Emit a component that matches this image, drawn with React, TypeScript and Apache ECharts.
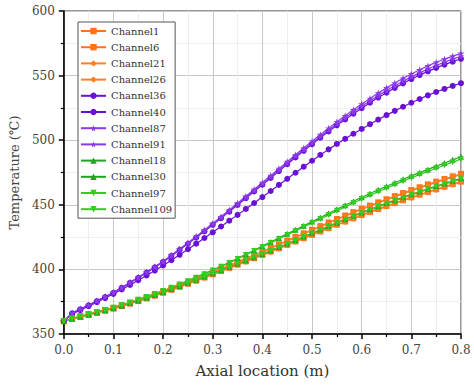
import React, { useEffect, useRef } from "react";
import * as echarts from "echarts";

// Axial stations (m)
const positions = [0, 0.0167, 0.0333, 0.05, 0.0667, 0.0833, 0.1, 0.1167, 0.1333, 0.15, 0.1667, 0.1833, 0.2, 0.2167, 0.2333, 0.25, 0.2667, 0.2833, 0.3, 0.3167, 0.3333, 0.35, 0.3667, 0.3833, 0.4, 0.4167, 0.4333, 0.45, 0.4667, 0.4833, 0.5, 0.5167, 0.5333, 0.55, 0.5667, 0.5833, 0.6, 0.6167, 0.6333, 0.65, 0.6667, 0.6833, 0.7, 0.7167, 0.7333, 0.75, 0.7667, 0.7833, 0.8];

// Temperatures (°C)
const channel1 = [360, 362.1, 363.6, 365.2, 366.8, 368.5, 370.2, 372.1, 374.1, 376.2, 378.3, 380.5, 382.8, 385.2, 387.6, 390.1, 392.6, 395.2, 397.8, 400.4, 403.1, 405.8, 408.5, 411.2, 413.9, 416.7, 419.5, 422.3, 425.1, 427.9, 430.7, 433.5, 436.3, 439.0, 441.7, 444.3, 446.9, 449.4, 451.9, 454.3, 456.7, 459.1, 461.4, 463.6, 465.8, 467.9, 470.0, 472.0, 474.0];
const channel6 = [360, 361.9, 363.4, 364.9, 366.5, 368.1, 369.8, 371.6, 373.5, 375.5, 377.6, 379.7, 381.9, 384.2, 386.5, 388.9, 391.3, 393.7, 396.2, 398.7, 401.2, 403.7, 406.2, 408.7, 411.2, 413.8, 416.4, 419.0, 421.6, 424.2, 426.8, 429.4, 432.0, 434.6, 437.1, 439.6, 442.1, 444.5, 446.8, 449.1, 451.4, 453.6, 455.8, 457.9, 460.0, 462.0, 464.0, 466.0, 468.0];
const channel21 = [360, 362.0, 363.6, 365.2, 366.8, 368.4, 370.1, 372.0, 374.0, 376.1, 378.2, 380.4, 382.7, 385.1, 387.5, 390.0, 392.5, 395.0, 397.6, 400.2, 402.8, 405.5, 408.2, 410.9, 413.6, 416.3, 419.1, 421.9, 424.7, 427.5, 430.3, 433.1, 435.8, 438.5, 441.2, 443.8, 446.4, 448.9, 451.4, 453.8, 456.2, 458.5, 460.8, 463.0, 465.2, 467.3, 469.4, 471.4, 473.3];
const channel26 = [360, 361.9, 363.3, 364.8, 366.4, 368.0, 369.7, 371.5, 373.4, 375.4, 377.4, 379.5, 381.7, 384.0, 386.3, 388.7, 391.1, 393.5, 396.0, 398.5, 401.0, 403.5, 406.0, 408.5, 411.0, 413.6, 416.2, 418.8, 421.4, 424.0, 426.6, 429.2, 431.7, 434.2, 436.7, 439.2, 441.6, 444.0, 446.3, 448.6, 450.9, 453.1, 455.3, 457.4, 459.5, 461.5, 463.5, 465.5, 467.4];
const channel36 = [360, 365.5, 368.5, 371.6, 374.7, 377.8, 381.0, 384.5, 388.0, 391.6, 395.3, 399.1, 403.0, 407.1, 411.3, 415.6, 419.9, 424.3, 428.7, 433.2, 437.7, 442.2, 446.8, 451.4, 456.0, 460.7, 465.4, 470.1, 474.8, 479.5, 484.1, 488.6, 492.9, 497.1, 501.1, 505.0, 508.7, 512.4, 516.0, 519.4, 522.7, 525.9, 529.0, 531.9, 534.7, 537.3, 539.7, 542.0, 544.1];
const channel40 = [360, 366.0, 369.1, 372.2, 375.4, 378.6, 381.9, 385.7, 389.6, 393.5, 397.5, 401.6, 405.8, 410.4, 415.1, 419.8, 424.6, 429.5, 434.5, 439.6, 444.7, 449.9, 455.1, 460.3, 465.5, 470.8, 476.1, 481.4, 486.6, 491.8, 496.9, 501.9, 506.8, 511.5, 516.1, 520.5, 524.8, 529.0, 533.0, 536.8, 540.5, 544.0, 547.3, 550.4, 553.3, 556.0, 558.5, 560.8, 563.0];
const channel87 = [360, 366.3, 369.4, 372.5, 375.7, 378.9, 382.2, 386.0, 389.9, 393.9, 397.9, 402.1, 406.4, 411.0, 415.8, 420.6, 425.5, 430.5, 435.6, 440.8, 446.0, 451.3, 456.6, 461.9, 467.2, 472.6, 478.0, 483.4, 488.7, 494.0, 499.2, 504.3, 509.3, 514.2, 518.9, 523.5, 528.0, 532.3, 536.5, 540.5, 544.3, 547.9, 551.3, 554.5, 557.5, 560.3, 562.8, 565.1, 567.2];
const channel91 = [360, 366.2, 369.3, 372.4, 375.6, 378.8, 382.1, 385.9, 389.8, 393.7, 397.7, 401.9, 406.1, 410.7, 415.5, 420.3, 425.1, 430.1, 435.1, 440.2, 445.4, 450.6, 455.9, 461.1, 466.4, 471.7, 477.0, 482.3, 487.6, 492.8, 497.9, 502.9, 507.9, 512.7, 517.3, 521.8, 526.2, 530.4, 534.5, 538.4, 542.1, 545.7, 549.0, 552.1, 555.1, 557.8, 560.4, 562.8, 565.0];
const channel18 = [360, 362.0, 363.6, 365.3, 367.0, 368.7, 370.5, 372.5, 374.6, 376.7, 378.9, 381.2, 383.5, 386.0, 388.6, 391.3, 394.0, 396.7, 399.5, 402.5, 405.5, 408.6, 411.7, 414.8, 418.0, 421.2, 424.4, 427.5, 430.7, 433.8, 437.0, 440.2, 443.4, 446.6, 449.7, 452.8, 455.9, 458.8, 461.6, 464.4, 467.1, 469.8, 472.4, 474.9, 477.4, 479.9, 482.4, 484.8, 487.2];
const channel30 = [360, 362.0, 363.5, 365.1, 366.7, 368.3, 370.0, 371.9, 373.9, 375.9, 378.0, 380.2, 382.5, 384.8, 387.2, 389.6, 392.0, 394.5, 397.0, 399.5, 402.0, 404.5, 407.0, 409.5, 412.0, 414.6, 417.3, 420.0, 422.7, 425.4, 428.1, 430.8, 433.5, 436.2, 438.9, 441.5, 444.1, 446.5, 448.9, 451.3, 453.6, 455.9, 458.1, 460.3, 462.4, 464.5, 466.5, 468.5, 470.5];
const channel97 = [360, 362.0, 363.5, 365.2, 366.9, 368.6, 370.4, 372.3, 374.4, 376.5, 378.7, 381.0, 383.3, 385.8, 388.3, 390.9, 393.6, 396.3, 399.1, 402.0, 405.0, 408.0, 411.1, 414.2, 417.3, 420.5, 423.6, 426.7, 429.8, 432.9, 436.0, 439.1, 442.2, 445.3, 448.4, 451.4, 454.4, 457.3, 460.1, 462.9, 465.6, 468.3, 470.9, 473.4, 475.9, 478.3, 480.7, 483.0, 485.3];
const channel109 = [360, 361.9, 363.4, 365.0, 366.6, 368.2, 369.9, 371.8, 373.7, 375.7, 377.8, 380.0, 382.2, 384.5, 386.9, 389.3, 391.7, 394.2, 396.7, 399.2, 401.7, 404.2, 406.7, 409.2, 411.7, 414.3, 416.9, 419.6, 422.3, 425.0, 427.7, 430.4, 433.1, 435.7, 438.3, 440.9, 443.5, 445.9, 448.3, 450.7, 453.0, 455.3, 457.5, 459.7, 461.8, 463.9, 465.9, 467.9, 469.8];

const xTicks = ["0.0", "0.1", "0.2", "0.3", "0.4", "0.5", "0.6", "0.7", "0.8"];

const STAR = "path://M50,0 L61,35 L98,35 L68,57 L79,91 L50,70 L21,91 L32,57 L2,35 L39,35 Z";

const seriesDefs = [
  { name: "Channel1", data: channel1, color: "#FF7417", symbol: "rect", rotate: 0 },
  { name: "Channel6", data: channel6, color: "#FF7417", symbol: "rect", rotate: 0 },
  { name: "Channel21", data: channel21, color: "#FF7F20", symbol: "diamond", rotate: 0 },
  { name: "Channel26", data: channel26, color: "#FF7F20", symbol: "diamond", rotate: 0 },
  { name: "Channel36", data: channel36, color: "#6A10D8", symbol: "circle", rotate: 0 },
  { name: "Channel40", data: channel40, color: "#6A10D8", symbol: "circle", rotate: 0 },
  { name: "Channel87", data: channel87, color: "#8A3AE8", symbol: STAR, rotate: 0 },
  { name: "Channel91", data: channel91, color: "#8A3AE8", symbol: STAR, rotate: 0 },
  { name: "Channel18", data: channel18, color: "#1FA51F", symbol: "triangle", rotate: 0 },
  { name: "Channel30", data: channel30, color: "#1FA51F", symbol: "triangle", rotate: 0 },
  { name: "Channel97", data: channel97, color: "#33CC22", symbol: "triangle", rotate: 180 },
  { name: "Channel109", data: channel109, color: "#33CC22", symbol: "triangle", rotate: 180 },
];

const SERIF = "'DejaVu Serif', 'Liberation Serif', serif";

export default function App() {
  const ref = useRef<HTMLDivElement>(null);
  useEffect(() => {
    if (!ref.current) return;
    const chart = echarts.init(ref.current, undefined, { renderer: "svg" });
    chart.setOption({
      animation: false,
      backgroundColor: "#ffffff",
      grid: {
        left: 60,
        right: 13,
        top: 11,
        bottom: 53,
        show: true,
        borderColor: "#333",
        borderWidth: 1,
        backgroundColor: "transparent",
      },
      legend: {
        orient: "vertical",
        left: 78,
        top: 22,
        itemWidth: 25,
        itemHeight: 8,
        itemGap: 6.2,
        padding: [4, 3, 4, 2],
        borderColor: "#555",
        borderWidth: 1,
        backgroundColor: "#fff",
        textStyle: { fontFamily: SERIF, fontSize: 10, color: "#333", lineHeight: 8 },
        data: seriesDefs.map((s) => s.name),
      },
      xAxis: {
        type: "value",
        min: 0,
        max: 0.8,
        interval: 0.1,
        name: "Axial location (m)",
        nameLocation: "middle",
        nameGap: 29,
        nameTextStyle: { fontFamily: SERIF, fontSize: 15, color: "#333" },
        axisLine: { show: true, lineStyle: { color: "#000", width: 1.5 } },
        axisTick: { show: true, length: 5, inside: false, lineStyle: { color: "#000", width: 1.5 } },
        minorTick: { show: true, splitNumber: 2, length: 3, lineStyle: { color: "#000", width: 1.2 } },
        axisLabel: {
          margin: 10,
          fontFamily: SERIF,
          fontSize: 12,
          color: "#444",
          formatter: (v: number) => xTicks[Math.round(v * 10)] ?? "",
        },
        splitLine: { show: true, lineStyle: { color: "#c8c8c8", width: 1 } },
        minorSplitLine: { show: true, lineStyle: { color: "#eeeeee", width: 1 } },
      },
      yAxis: {
        type: "value",
        min: 350,
        max: 600,
        interval: 50,
        name: "Temperature (℃)",
        nameLocation: "middle",
        nameGap: 34,
        nameTextStyle: { fontFamily: SERIF, fontSize: 13, color: "#444" },
        axisLine: { show: true, lineStyle: { color: "#000", width: 1.5 } },
        axisTick: { show: true, length: 5, inside: false, lineStyle: { color: "#000", width: 1.5 } },
        minorTick: { show: true, splitNumber: 2, length: 3, lineStyle: { color: "#000", width: 1.2 } },
        axisLabel: { margin: 9, fontFamily: SERIF, fontSize: 12, color: "#444" },
        splitLine: { show: true, lineStyle: { color: "#c8c8c8", width: 1 } },
        minorSplitLine: { show: true, lineStyle: { color: "#eeeeee", width: 1 } },
      },
      series: seriesDefs.map((s) => ({
        name: s.name,
        type: "line",
        data: positions.map((p, i) => [p, s.data[i]]),
        symbol: s.symbol,
        symbolSize: s.symbol === STAR ? 7 : 6,
        symbolRotate: s.rotate,
        showAllSymbol: true,
        color: s.color,
        lineStyle: { color: s.color, width: 1.2 },
        itemStyle: { color: s.color },
        clip: false,
      })),
    });
    return () => chart.dispose();
  }, []);
  return <div ref={ref} style={{ width: 474, height: 387, position: "absolute", left: 0, top: 0 }} />;
}
